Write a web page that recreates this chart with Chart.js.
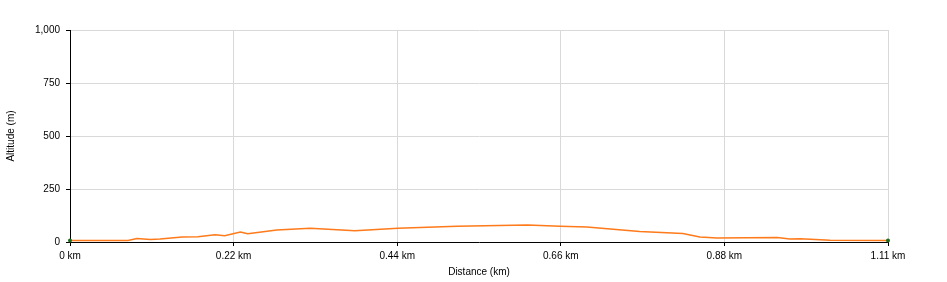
<!DOCTYPE html>
<html>
<head>
<meta charset="utf-8">
<script src="https://cdn.jsdelivr.net/npm/chart.js@4/dist/chart.umd.min.js"></script>
<style>
  html, body { margin: 0; padding: 0; background: #fff; }
  #wrap { width: 947px; height: 282px; }
</style>
</head>
<body>
<div id="wrap"><canvas id="profile"></canvas></div>
<script>
// distance along the track (km)
const distance = [0, 0.078, 0.090, 0.108, 0.121, 0.151, 0.172, 0.195, 0.208, 0.229, 0.239, 0.278, 0.323, 0.383,
  0.441, 0.520, 0.615, 0.659, 0.695, 0.766, 0.824, 0.847, 0.870, 0.951, 0.968, 0.982, 1.022, 1.1];
// altitude at each point (m)
const altitude = [7, 7, 17, 12, 14, 23, 25, 34, 30, 47, 39, 57, 65, 53,
  65, 74, 80, 74, 71, 50, 40, 24, 19, 21, 14, 15, 8, 7];
// x axis ticks and their labels
const xTicks = [0, 0.22, 0.44, 0.66, 0.88, 1.1];
const xTickLabels = ['0 km', '0.22 km', '0.44 km', '0.66 km', '0.88 km', '1.11 km'];
// y axis ticks
const yTicks = [0, 250, 500, 750, 1000];

const font = { family: 'Liberation Sans', size: 10 };
const last = distance.length - 1;

new Chart(document.getElementById('profile'), {
  type: 'line',
  data: {
    datasets: [{
      data: distance.map((d, i) => ({ x: d, y: altitude[i] })),
      borderColor: '#ff7a1a',
      borderWidth: 1.5,
      tension: 0,
      fill: false,
      clip: false,
      // only the start and end get a marker
      pointRadius: ctx => (ctx.dataIndex === 0 || ctx.dataIndex === last) ? 2 : 0,
      pointBackgroundColor: '#1e6b1e',
      pointBorderColor: '#1e6b1e',
      pointBorderWidth: 0,
    }],
  },
  options: {
    responsive: true,
    maintainAspectRatio: false,
    animation: false,
    layout: { padding: { top: 30, right: 59, bottom: 0, left: 0 } },
    plugins: {
      legend: { display: false },
      tooltip: { enabled: false },
    },
    scales: {
      x: {
        type: 'linear',
        min: xTicks[0],
        max: xTicks[xTicks.length - 1],
        afterBuildTicks: s => { s.ticks = xTicks.map(v => ({ value: v })); },
        afterFit: s => { s.height = 40; },
        grid: { color: '#d9d9d9', tickColor: '#000', tickLength: 4 },
        border: { color: '#000', width: 1 },
        ticks: {
          color: '#000', font, padding: 4, maxRotation: 0, autoSkip: false,
          callback: (v, i) => xTickLabels[i],
        },
        title: { display: true, text: 'Distance (km)', color: '#000', font, padding: { top: 0, bottom: 4 } },
      },
      y: {
        min: yTicks[0],
        max: yTicks[yTicks.length - 1],
        afterBuildTicks: s => { s.ticks = yTicks.map(v => ({ value: v })); },
        afterFit: s => { s.width = 70; },
        grid: { color: '#d9d9d9', tickColor: '#000', tickLength: 4 },
        border: { color: '#000', width: 1 },
        ticks: {
          color: '#000', font, padding: 6,
          callback: v => v.toLocaleString('en-US'),
        },
        title: { display: true, text: 'Altitude (m)', color: '#000', font, padding: { top: 5, bottom: 0 } },
      },
    },
  },
});
</script>
</body>
</html>
